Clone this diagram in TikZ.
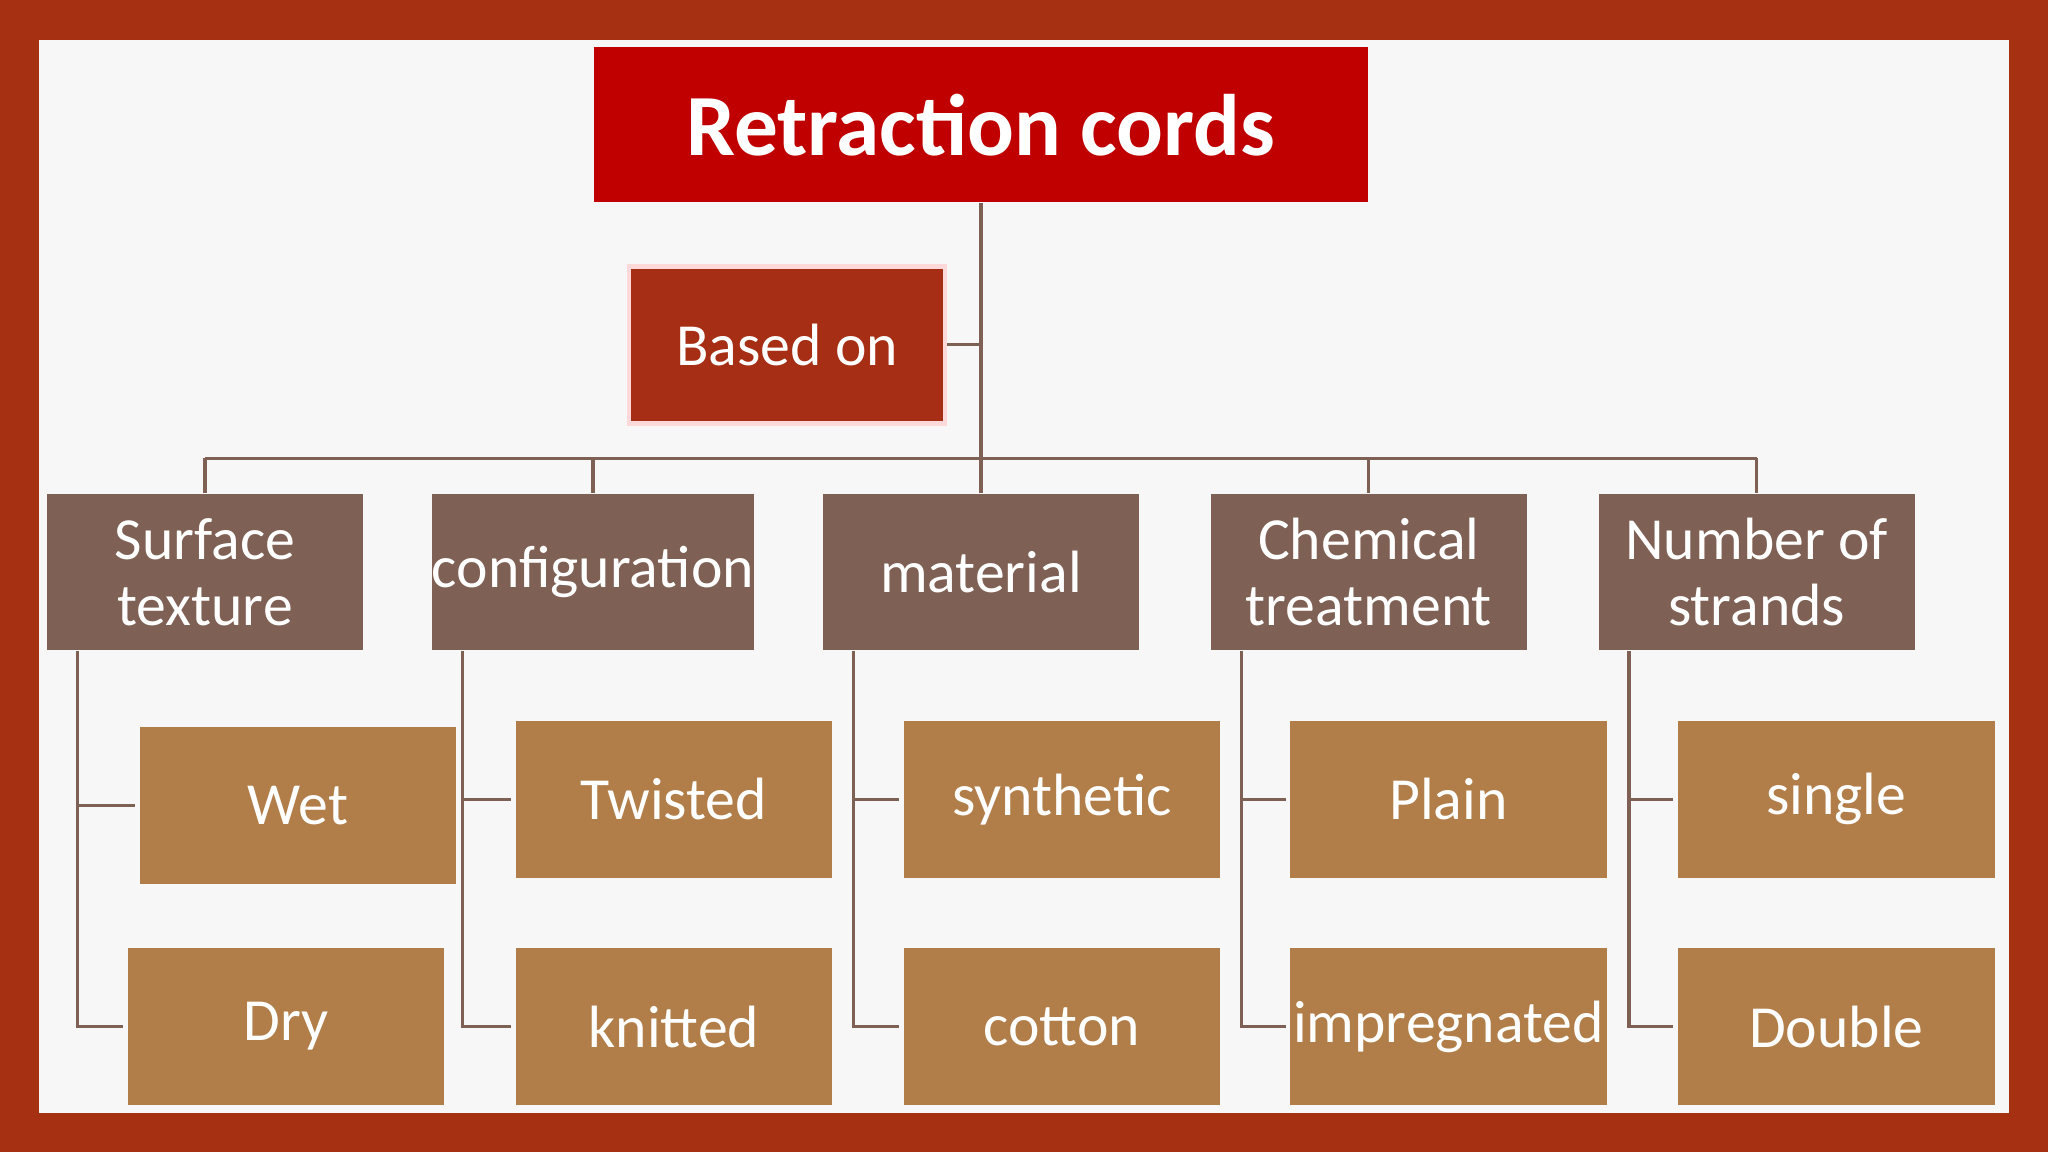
\documentclass[tikz,border=0pt]{standalone}
\usepackage{fontspec}
\setmainfont{Carlito}
\definecolor{frame}{RGB}{165,48,18}
\definecolor{titlered}{RGB}{192,0,0}
\definecolor{basedred}{RGB}{166,46,20}
\definecolor{catbrown}{RGB}{127,96,84}
\definecolor{leafbrown}{RGB}{177,126,73}
\tikzset{box/.style={minimum width=2.42cm, minimum height=1.2cm, inner sep=0pt, text=white, align=center, font=\fontsize{13}{14.5}\selectfont}}
\tikzset{cat/.style={box, fill=catbrown}}
\tikzset{leaf/.style={box, fill=leafbrown}}
\tikzset{link/.style={draw=catbrown, line width=0.7pt}}
\begin{document}
\begin{tikzpicture}[x=0.01cm, y=-0.01cm]
\fill[frame] (0,0) rectangle (1568,882);
\fill[white!97!black] (30,31) rectangle (1538,852);
\useasboundingbox (0,0) rectangle (1568,882);
\node[box, fill=titlered, minimum width=5.92cm, minimum height=1.19cm, font=\bfseries\fontsize{19}{21}\selectfont] (title) at (751,95.5) {Retraction cords};
\node[box, fill=basedred, draw=white!85!red, line width=1pt] (based) at (602.5,264) {Based on};
\coordinate (bus) at (751,351);
\coordinate (busL) at (157,351);
\coordinate (busR) at (1345,351);
\draw[link] (title.south) -- (bus);
\draw[link] (busL) -- (busR);
\draw[link] (based.east) -- (based.east -| bus);
% categories
\node[cat] (c1) at (157,438) {Surface\\texture};
\node[cat] (c2) at (454,438) {configuration};
\node[cat] (c3) at (751,438) {material};
\node[cat] (c4) at (1048,438) {Chemical\\treatment};
\node[cat] (c5) at (1345,438) {Number of\\strands};
\foreach \c in {c1,c2,c3,c4,c5}
  \draw[link] (\c.north) -- (\c.north |- bus);
% leaves
\node[leaf] (wet) at (228,617) {Wet};
\node[leaf] (dry) at (219,786) {Dry};
\node[leaf] (twisted) at (516,612) {Twisted};
\node[leaf] (knitted) at (516,786) {knitted};
\node[leaf] (synthetic) at (813,612) {synthetic};
\node[leaf] (cotton) at (813,786) {cotton};
\node[leaf] (plain) at (1109,612) {Plain};
\node[leaf] (impregnated) at (1109,786) {impregnated};
\node[leaf] (single) at (1406,612) {single};
\node[leaf] (double) at (1406,786) {Double};
\foreach \c/\a/\b in {c1/wet/dry, c2/twisted/knitted, c3/synthetic/cotton, c4/plain/impregnated, c5/single/double} {
  \coordinate (\c s) at ([xshift=0.24cm]\c.south west);
  \draw[link] (\c s) |- ([xshift=-0.03cm]\b.west);
  \draw[link] (\c s |- \a.west) -- ([xshift=-0.03cm]\a.west);
}
\end{tikzpicture}
\end{document}
